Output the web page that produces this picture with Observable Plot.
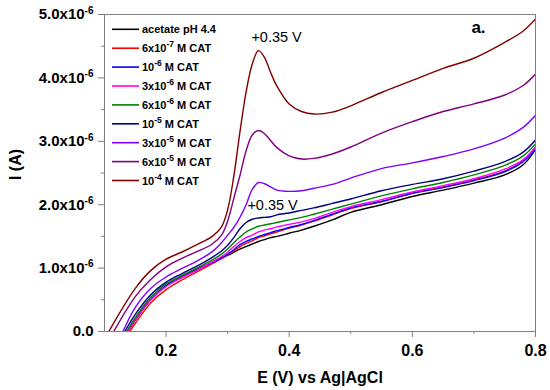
<!DOCTYPE html>
<html><head><meta charset="utf-8">
<script src="https://cdn.jsdelivr.net/npm/d3@7"></script>
<script src="https://cdn.jsdelivr.net/npm/@observablehq/plot@0.6"></script>
<style>
body{margin:0;background:#fff}
#chart{width:550px;height:390px}
#chart g[aria-label="x-axis tick label"]{font-weight:bold;font-size:16px}
#chart g[aria-label="y-axis tick label"]{font-weight:bold;font-size:15px}
</style>
</head><body><div id="chart"></div>
<script>
// Potential grid (V vs Ag|AgCl)
const E = [0.15,0.175,0.2,0.225,0.25,0.275,0.29,0.30,0.31,0.32,0.33,0.34,0.35,0.36,0.37,0.38,0.40,0.42,0.44,0.47,0.50,0.55,0.60,0.65,0.70,0.75,0.78,0.80];
// Potential where each curve leaves the I = 0 line
const startE = [0.138,0.141,0.137,0.138,0.136,0.133,0.130,0.115,0.107];

const seriesNames = ["acetate pH 4.4","6x10^-7 M CAT","10^-6 M CAT","3x10^-6 M CAT","6x10^-6 M CAT","10^-5 M CAT","3x10^-5 M CAT","6x10^-5 M CAT","10^-4 M CAT"];
const legendBase = ["acetate pH 4.4","6x10","10","3x10","6x10","10","3x10","6x10","10"];
const legendExp  = [null,"-7","-6","-6","-6","-5","-5","-5","-4"];
const legendTail = [""," M CAT"," M CAT"," M CAT"," M CAT"," M CAT"," M CAT"," M CAT"," M CAT"];
const colors = ["#000000","#ff0000","#0000ff","#ff00ff","#008000","#000080","#8000ff","#800080","#800000"];

// Current in units of 1e-6 A
const I_acetate = [0.18,0.50,0.72,0.86,0.98,1.09,1.16,1.20,1.25,1.30,1.34,1.38,1.42,1.45,1.48,1.50,1.55,1.60,1.66,1.76,1.88,2.00,2.13,2.23,2.34,2.47,2.63,2.87];
const I_6e7     = [0.13,0.45,0.66,0.81,0.94,1.07,1.15,1.21,1.27,1.34,1.39,1.43,1.48,1.51,1.54,1.57,1.63,1.68,1.74,1.84,1.94,2.05,2.18,2.28,2.39,2.53,2.69,2.90];
const I_1e6     = [0.20,0.51,0.72,0.85,0.97,1.09,1.16,1.22,1.29,1.37,1.42,1.46,1.50,1.53,1.56,1.59,1.64,1.69,1.75,1.85,1.95,2.05,2.18,2.27,2.38,2.52,2.68,2.88];
const I_3e6     = [0.19,0.50,0.71,0.85,0.97,1.10,1.18,1.25,1.34,1.42,1.48,1.52,1.57,1.60,1.62,1.65,1.69,1.73,1.78,1.88,1.97,2.08,2.20,2.30,2.41,2.56,2.71,2.91];
const I_6e6     = [0.22,0.54,0.75,0.88,1.00,1.13,1.22,1.30,1.40,1.49,1.57,1.62,1.66,1.68,1.70,1.72,1.76,1.80,1.85,1.93,2.01,2.14,2.25,2.35,2.47,2.62,2.77,2.96];
const I_1e5     = [0.27,0.58,0.78,0.91,1.03,1.17,1.27,1.36,1.48,1.62,1.72,1.77,1.79,1.80,1.81,1.84,1.87,1.91,1.95,2.02,2.09,2.22,2.32,2.41,2.53,2.68,2.83,3.02];
const I_3e5     = [0.38,0.68,0.86,0.99,1.11,1.26,1.40,1.52,1.64,1.80,2.00,2.24,2.35,2.33,2.28,2.23,2.21,2.22,2.26,2.32,2.42,2.57,2.66,2.76,2.88,3.05,3.22,3.41];
const I_6e5     = [0.55,0.82,1.02,1.15,1.26,1.38,1.52,1.74,2.10,2.46,2.85,3.10,3.17,3.12,3.01,2.90,2.77,2.72,2.73,2.80,2.91,3.13,3.31,3.47,3.59,3.73,3.88,4.06];
const I_1e4     = [0.68,0.96,1.14,1.25,1.37,1.50,1.65,1.92,2.45,3.15,3.78,4.22,4.43,4.32,4.08,3.87,3.59,3.47,3.43,3.46,3.56,3.77,3.96,4.15,4.31,4.56,4.74,4.93];
const seriesValues = [I_acetate,I_6e7,I_1e6,I_3e6,I_6e6,I_1e5,I_3e5,I_6e5,I_1e4];

const xTicks = [0.2,0.4,0.6,0.8];
const xMinor = [0.3,0.5,0.7];
const yTicks = [0,1,2,3,4,5];
const yTickBase = ["0.0","1.0x10","2.0x10","3.0x10","4.0x10","5.0x10"];
const yTickExp  = [null,"-6","-6","-6","-6","-6"];
const yMinor = [0.5,1.5,2.5,3.5,4.5];

const annotations = [
  {E: 0.3795, I: 4.64, text: "+0.35 V"},
  {E: 0.373,  I: 1.99, text: "+0.35 V"}
];

const rows = [];
seriesValues.forEach((vals, s) => {
  rows.push({E: startE[s], I: 0, s: seriesNames[s]});
  vals.forEach((v, j) => rows.push({E: E[j], I: v, s: seriesNames[s]}));
});

const font = "'Liberation Sans', Arial, Helvetica, sans-serif";
const plot = Plot.plot({
  width: 550, height: 390,
  marginLeft: 104, marginRight: 15, marginTop: 14, marginBottom: 59,
  style: {fontFamily: font, color: "black", background: "white", overflow: "visible"},
  x: {domain: [0.1, 0.8]},
  y: {domain: [0, 5]},
  color: {domain: seriesNames, range: colors},
  marks: [
    Plot.line(rows, {x: "E", y: "I", z: "s", stroke: "s", strokeWidth: 1.4, curve: "catmull-rom", clip: true}),
    Plot.frame({stroke: "#808080"}),
    Plot.axisX(xTicks, {tickSize: 6, tickPadding: 7, tickFormat: d3.format(".1f"), stroke: "#808080", fill: "black", label: null}),
    Plot.axisX(xMinor, {tickSize: 3, tickFormat: () => "", stroke: "#808080", label: null}),
    Plot.axisY(yTicks, {tickSize: 6, tickPadding: 5, tickFormat: v => yTickBase[yTicks.indexOf(v)], stroke: "#808080", fill: "black", label: null}),
    Plot.axisY(yMinor, {tickSize: 3, tickFormat: () => "", stroke: "#808080", label: null}),
    Plot.text(annotations, {x: "E", y: "I", text: "text", fontSize: 14.5, textAnchor: "middle", lineAnchor: "middle", fill: "black"}),
    Plot.text(["a."], {frameAnchor: "top-right", dx: -57, dy: 13, textAnchor: "middle", lineAnchor: "middle", fontSize: 17, fontWeight: "bold", fill: "black"}),
    Plot.text(["E (V) vs Ag|AgCl"], {frameAnchor: "bottom", dy: 46, textAnchor: "middle", lineAnchor: "middle", fontSize: 16, fontWeight: "bold", fill: "black"}),
    Plot.text(["I (A)"], {frameAnchor: "left", dx: -89, dy: -8.5, rotate: -90, textAnchor: "middle", lineAnchor: "middle", fontSize: 16, fontWeight: "bold", fill: "black"})
  ]
});

// superscripts on y tick labels
const svg = d3.select(plot);
svg.selectAll('g[aria-label="y-axis tick label"] text').each(function() {
  const t = d3.select(this);
  const idx = yTickBase.indexOf(t.text());
  if (idx >= 0 && yTickExp[idx]) {
    t.append("tspan").attr("dy", "-0.55em").attr("font-size", "10px").text(yTickExp[idx]);
  }
});

// legend
const lg = svg.append("g").attr("font-family", font).attr("font-weight", "bold")
  .attr("font-size", 11).attr("text-anchor", "start");
seriesNames.forEach((name, i) => {
  const cy = 29.3 + 18.9 * i;
  lg.append("line").attr("x1", 112).attr("x2", 139).attr("y1", cy).attr("y2", cy)
    .attr("stroke", colors[i]).attr("stroke-width", 1.6);
  const t = lg.append("text").attr("x", 142).attr("y", cy + 4).attr("fill", "black").attr("text-anchor", "start");
  t.append("tspan").text(legendBase[i]);
  if (legendExp[i]) {
    t.append("tspan").attr("dy", -5).attr("font-size", 8.5).text(legendExp[i]);
    t.append("tspan").attr("dy", 5).text(legendTail[i]);
  }
});

document.getElementById("chart").appendChild(plot);
</script>
</body></html>
